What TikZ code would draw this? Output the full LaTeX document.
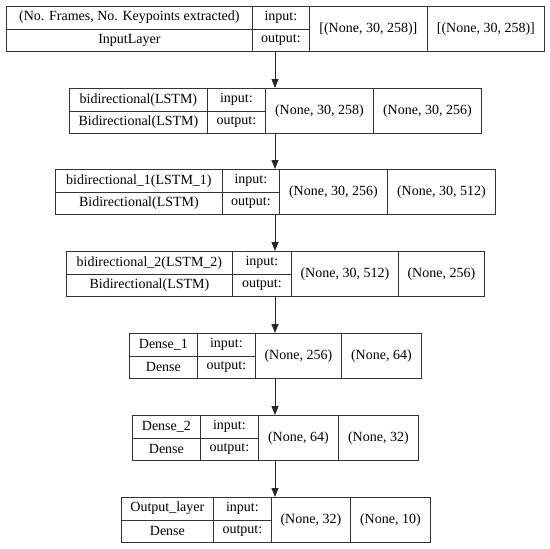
\documentclass[tikz,border=0pt]{standalone}
\usepackage{fontspec}
\setmainfont{Liberation Serif}
\usetikzlibrary{arrows.meta}
\tikzset{
  cell/.style={draw=black!80, line width=0.8pt, inner sep=0pt, anchor=north west,
    minimum height=22.5pt, font=\fontsize{14}{16}\selectfont},
  tall/.style={cell, minimum height=45pt},
}
\begin{document}
\begin{tikzpicture}[x=1pt, y=-1pt, >={Triangle[length=9pt,width=7pt]}, thick]
        \useasboundingbox (0,0) rectangle (550,549);
        \coordinate (ax) at (275,0);
        % one layer per line: left, splits, right, top
        \foreach \n/\nm/\cl/\a/\b/\c/\d/\e/\y/\si/\so in {
            1/{(No. Frames, No. Keypoints extracted)}/InputLayer/6/252/309/427/544/6/{[(None, 30, 258)]}/{[(None, 30, 258)]},
            2/bidirectional(LSTM)/Bidirectional(LSTM)/69/207/265/373/481/88/{(None, 30, 258)}/{(None, 30, 256)},
            3/bidirectional\_1(LSTM\_1)/Bidirectional(LSTM)/55/222/279/387/495/169/{(None, 30, 256)}/{(None, 30, 512)},
            4/bidirectional\_2(LSTM\_2)/Bidirectional(LSTM)/66/232/291/398/484/251/{(None, 30, 512)}/{(None, 256)},
            5/Dense\_1/Dense/129/197/255/341/421/333/{(None, 256)}/{(None, 64)},
            6/Dense\_2/Dense/132/200/258/338/418/415/{(None, 64)}/{(None, 32)},
            7/Output\_layer/Dense/121/213/271/350/430/497/{(None, 32)}/{(None, 10)}}{
            \node[cell, minimum width={\b-\a}] (nm\n) at (\a,\y) {\nm};
            \node[cell, minimum width={\b-\a}] (cl\n) at (\a,\y+22.5) {\cl};
            \node[cell, minimum width={\c-\b}] (in\n) at (\b,\y) {input:};
            \node[cell, minimum width={\c-\b}] (out\n) at (\b,\y+22.5) {output:};
            \node[tall, minimum width={\d-\c}] (si\n) at (\c,\y) {\si};
            \node[tall, minimum width={\e-\d}] (so\n) at (\d,\y) {\so};
        }
        \foreach \i [count=\j from 2] in {1,...,6}
            \draw [->, black!85, line width=0.8pt] (cl\i.south -| ax) -- (nm\j.north -| ax);
\end{tikzpicture}
\end{document}
